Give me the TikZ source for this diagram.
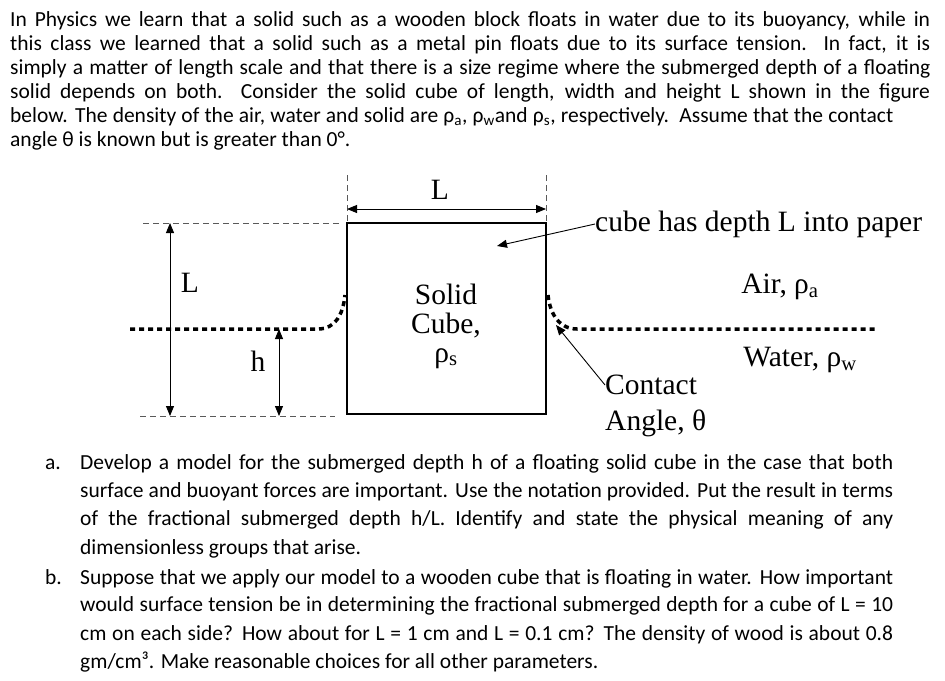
\documentclass[tikz,border=0pt]{standalone}
\usepackage{fontspec}
\setmainfont{Carlito}
\newfontfamily\tms{Liberation Serif}
\usetikzlibrary{arrows.meta}
\begin{document}
\begin{tikzpicture}[x=1pt,y=-1pt,
  txt/.style={anchor=base west,inner sep=0pt,font=\fontsize{21.5}{24}\selectfont},
  fig/.style={inner sep=0pt,font=\tms\fontsize{29.5}{31}\selectfont},
  dim/.style={thin,dash pattern=on 6pt off 4pt,gray!70!black},
  darr/.style={{Triangle[length=10pt,width=8pt]}-{Triangle[length=10pt,width=8pt]},line width=0.9pt},
  lead/.style={-{Triangle[length=10pt,width=8pt]},line width=0.9pt},
  surf/.style={line width=3.5pt,dash pattern=on 5pt off 4pt}]
\useasboundingbox (0,0) rectangle (945,680);
% paragraph
\node[txt] (p1) at (10,26) {\makebox[920pt][s]{In Physics we learn that a solid such as a wooden block floats in water due to its buoyancy, while in}};
\node[txt] (p2) at (10,50) {\makebox[920pt][s]{this class we learned that a solid such as a metal pin floats due to its surface tension.\ \ In fact, it is}};
\node[txt] (p3) at (10,74) {\makebox[920pt][s]{simply a matter of length scale and that there is a size regime where the submerged depth of a floating}};
\node[txt] (p4) at (10,98) {\makebox[920pt][s]{solid depends on both.\ \ Consider the solid cube of length, width and height L shown in the figure}};
\node[txt] (p5) at (10,122) {\makebox[883pt][s]{below. The density of the air, water and solid are ρ\textsubscript{a}, ρ\textsubscript{w}and ρ\textsubscript{s}, respectively.\ \ Assume that the contact}};
\node[txt] (p6) at (10,146) {angle θ is known but is greater than 0°.};
% items
\node[txt] (ia) at (45,469) {a.};
\node[txt] (a1) at (80,469) {\makebox[813pt][s]{Develop a model for the submerged depth h of a floating solid cube in the case that both}};
\node[txt] (a2) at (80,497) {\makebox[813pt][s]{surface and buoyant forces are important. Use the notation provided. Put the result in terms}};
\node[txt] (a3) at (80,525) {\makebox[813pt][s]{of the fractional submerged depth h/L. Identify and state the physical meaning of any}};
\node[txt] (a4) at (80,554) {dimensionless groups that arise.};
\node[txt] (ib) at (45,584) {b.};
\node[txt] (b1) at (80,584) {\makebox[813pt][s]{Suppose that we apply our model to a wooden cube that is floating in water. How important}};
\node[txt] (b2) at (80,611) {\makebox[813pt][s]{would surface tension be in determining the fractional submerged depth for a cube of L = 10}};
\node[txt] (b3) at (80,640) {\makebox[813pt][s]{cm on each side? How about for L = 1 cm and L = 0.1 cm? The density of wood is about 0.8}};
\node[txt] (b4) at (80,668) {gm/cm³. Make reasonable choices for all other parameters.};
% figure
\coordinate (tl) at (347,223); \coordinate (br) at (546,414);
\draw[dim] (347,175) -- (tl);
\draw[dim] (546,175) -- (546,223);
\draw[dim] (143,223) -- (340,223);
\draw[dim] (140,416) -- (335,416);
\draw[line width=2.5pt] (tl) rectangle (br);
\coordinate (La) at (347,209); \coordinate (Lb) at (546,209);
\draw[darr] (La) -- (Lb);
\node[fig] (Ltop) at (440,190) {L};
\coordinate (v1) at (170,223); \coordinate (v2) at (170,416);
\draw[darr] (v1) -- (v2);
\node[fig] (Lleft) at (190,283) {L};
\coordinate (h1) at (279,329); \coordinate (h2) at (279,416);
\draw[darr] (h1) -- (h2);
\node[fig] (hlab) at (258,361) {h};
\node[fig,align=center] (solid) at (446,326) {Solid\\[-2pt]Cube,\\[-2pt]ρ\textsubscript{s}};
\draw[surf] (130,329) -- (318,329) .. controls (335,329) and (343,315) .. (345,295);
\draw[surf] (548,295) .. controls (550,315) and (560,329) .. (577,329) -- (877,329);
\node[fig,anchor=west] (cube) at (595,224) {cube has depth L into paper};
\coordinate (ct) at (497,246);
\draw[lead] (cube.west) -- (ct);
\node[fig] (air) at (780,287) {Air, ρ\textsubscript{a}};
\node[fig] (water) at (800,360) {Water, ρ\textsubscript{w}};
\node[fig,anchor=west] (contact) at (605,385) {Contact};
\node[fig,anchor=west] (angle) at (605,423) {Angle, θ};
\coordinate (cat) at (556,325);
\draw[lead] (contact.west) -- (cat);
\end{tikzpicture}
\end{document}
